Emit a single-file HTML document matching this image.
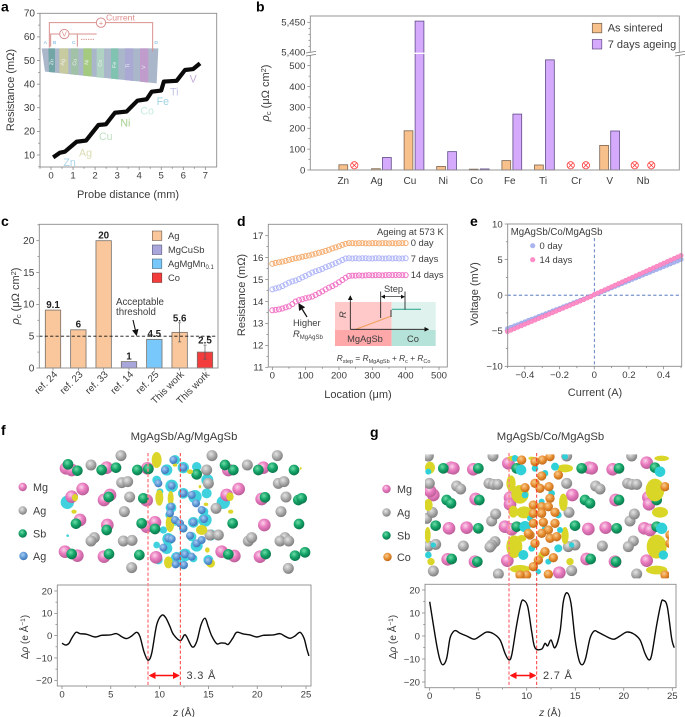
<!DOCTYPE html>
<html lang="en">
<head>
<meta charset="utf-8">
<title>Contact resistance figure</title>
<style>
html,body{margin:0;padding:0;background:#fff;width:685px;height:717px;overflow:hidden}
svg{display:block;font-family:"Liberation Sans",sans-serif;fill:#3c3c3c;font-size:9.6px;filter:blur(.3px)}
.pl{font-weight:bold;font-size:14px;fill:#000}
.t{font-size:9.4px}
.at{font-size:11px}
.lg{font-size:10.8px}
.ttl{font-size:11.3px}
.zt{font-size:10.3px}
.dr{font-size:10px}
.frame{fill:none;stroke:#8c8c8c;stroke-width:.9}
.tick{stroke:#777;stroke-width:.7}
</style>
</head>
<body>
<svg id="fig" xmlns="http://www.w3.org/2000/svg" width="685" height="717" viewBox="0 0 685 717">
<defs>
<radialGradient id="gM" cx=".4" cy=".35" r=".7"><stop offset="0" stop-color="#fbd4ea"/><stop offset=".45" stop-color="#ea7cc0"/><stop offset="1" stop-color="#b55a94"/></radialGradient>
<radialGradient id="gA" cx=".4" cy=".35" r=".7"><stop offset="0" stop-color="#e4e4e4"/><stop offset=".55" stop-color="#a8a8a8"/><stop offset="1" stop-color="#777"/></radialGradient>
<radialGradient id="gS" cx=".4" cy=".35" r=".7"><stop offset="0" stop-color="#6fdca8"/><stop offset=".5" stop-color="#14a468"/><stop offset="1" stop-color="#0a7048"/></radialGradient>
<radialGradient id="gB" cx=".4" cy=".35" r=".7"><stop offset="0" stop-color="#a9cdf2"/><stop offset=".55" stop-color="#5c97d6"/><stop offset="1" stop-color="#3a6fb0"/></radialGradient>
<radialGradient id="gC" cx=".4" cy=".35" r=".7"><stop offset="0" stop-color="#f8cd90"/><stop offset=".55" stop-color="#e68a2c"/><stop offset="1" stop-color="#b8651a"/></radialGradient>
<clipPath id="clipG"><rect x="240" y="118" width="732" height="372"/></clipPath>
<marker id="ah" markerWidth="6" markerHeight="6" refX="5" refY="3" orient="auto"><path d="M0,0 L6,3 L0,6 z" fill="#111"/></marker>
<marker id="ahs" markerWidth="6" markerHeight="6" refX="1" refY="3" orient="auto"><path d="M6,0 L0,3 L6,6 z" fill="#111"/></marker>
<marker id="ar" markerWidth="5" markerHeight="5" refX="4" refY="2.5" orient="auto"><path d="M0,0 L5,2.5 L0,5 z" fill="#f11"/></marker>
<marker id="ars" markerWidth="5" markerHeight="5" refX="1" refY="2.5" orient="auto"><path d="M5,0 L0,2.5 L5,5 z" fill="#f11"/></marker>
</defs>

<g id="panelA">
  <text class="pl" x="1" y="11.5">a</text>
  <g id="aAxes"></g>
  <rect class="frame" x="40" y="13.3" width="176.7" height="153.7"/>
  <text class="at" x="128" y="198" text-anchor="middle">Probe distance (mm)</text>
  <text class="at" transform="translate(14,90) rotate(-90)" text-anchor="middle">Resistance (mΩ)</text>
  <g transform="scale(.33333)">
    <polygon points="125,145 475,145 470,250 135,215" fill="#aab7ca"/>
    <polygon points="145,145 165,145 165,218 147,216" fill="#71a5a6"/>
    <polygon points="178,145 205,145 205,222 178,219" fill="#c8caa0"/>
    <polygon points="213,145 235,145 235,225 213,223" fill="#a2c2a8"/>
    <polygon points="250,145 275,145 275,230 250,227" fill="#a4ca80"/>
    <polygon points="290,145 312,145 312,234 290,232" fill="#afd2c3"/>
    <polygon points="333,145 355,145 355,238 333,236" fill="#80c3b0"/>
    <polygon points="375,145 400,145 400,243 375,240" fill="#aaa9d4"/>
    <polygon points="420,145 445,145 445,248 420,245" fill="#bf9ccb"/>
    <g fill="none" stroke="#d9908e" stroke-width="3">
      <path d="M148,143 V68 H458 V155"/>
      <path d="M152,140 V102 H290"/>
      <path d="M232,102 V140"/>
      <path d="M243,118 H285" stroke-dasharray="4 3"/>
      <circle cx="303" cy="68" r="14" fill="#fff"/>
      <circle cx="193" cy="102" r="14" fill="#fff"/>
    </g>
    <text x="318" y="62" font-size="26" fill="#df8f8c">Current</text>
    <text x="193" y="110" font-size="22" fill="#df8f8c" text-anchor="middle">V</text>
    <text x="303" y="76" font-size="22" fill="#df8f8c" text-anchor="middle">+</text>
    <g font-size="15" fill="#68aee0">
      <text x="131" y="132">A</text><text x="159" y="132">B</text><text x="216" y="132">C</text><text x="463" y="132">D</text>
    </g>
    <g font-size="16" fill="#eef3f3" text-anchor="middle">
      <text transform="translate(160,187) rotate(-85)">Zn</text><text transform="translate(193,187) rotate(-85)">Ag</text>
      <text transform="translate(229,187) rotate(-85)">Cu</text><text transform="translate(265,187) rotate(-85)">Ni</text>
      <text transform="translate(305,190) rotate(-85)">Co</text><text transform="translate(348,195) rotate(-85)">Fe</text>
      <text transform="translate(388,198) rotate(-85)">Ti</text><text transform="translate(436,202) rotate(-85)">V</text>
    </g>
  </g>
  <g id="aLine"></g>
  <g transform="scale(.33333)" font-size="32">
    <text x="190" y="498" fill="#a9d4e8">Zn</text>
    <text x="237" y="470" fill="#dcdcb0">Ag</text>
    <text x="297" y="420" fill="#bfe0c2">Cu</text>
    <text x="361" y="380" fill="#a6cf8e">Ni</text>
    <text x="421" y="344" fill="#c7ece0">Co</text>
    <text x="470" y="315" fill="#a0d4e4">Fe</text>
    <text x="510" y="286" fill="#c2c4e6">Ti</text>
    <text x="569" y="248" fill="#c4aed8">V</text>
  </g>
</g>

<g id="panelB">
  <text class="pl" x="256" y="11.5">b</text>
  <g id="bAxes"></g>
  <g id="bBars"></g>
  <rect class="frame" x="310.3" y="16" width="369" height="154"/>
  <g>
    <rect x="307" y="52" width="7" height="3" fill="#fff"/><rect x="676" y="52" width="7" height="3" fill="#fff"/>
    <path d="M306,53 L316,51.4 M306,56 L316,54.4 M675,53 L685,51.4 M675,56 L685,54.4" stroke="#777" stroke-width=".7" fill="none"/>
  </g>
  <text class="at" transform="translate(269,93) rotate(-90)" text-anchor="middle"><tspan font-style="italic">ρ</tspan><tspan font-size="7.5" dy="2">c</tspan><tspan dy="-2"> (μΩ cm</tspan><tspan font-size="7.5" dy="-3">2</tspan><tspan dy="3">)</tspan></text>
  <g>
    <rect x="592.3" y="23.3" width="9.5" height="9.5" fill="#f8c08a" stroke="#6b5a4d" stroke-width=".7"/>
    <text class="at" x="607.7" y="31.7">As sintered</text>
    <rect x="592.3" y="39.5" width="9.5" height="9.5" fill="#d5a9fb" stroke="#5f4a86" stroke-width=".7"/>
    <text class="at" x="607.7" y="48">7 days ageing</text>
  </g>
</g>

<g id="panelC">
  <text class="pl" x="1" y="226">c</text>
  <g id="cAxes"></g>
  <g id="cBars"></g>
  <rect class="frame" x="39.3" y="224.3" width="178.7" height="143.7"/>
  <text class="at" transform="translate(19,296) rotate(-90)" text-anchor="middle"><tspan font-style="italic">ρ</tspan><tspan font-size="7.5" dy="2">c</tspan><tspan dy="-2"> (μΩ cm</tspan><tspan font-size="7.5" dy="-3">2</tspan><tspan dy="3">)</tspan></text>
  <text class="t" x="116" y="305" style="font-size:9.7px">Acceptable</text>
  <text class="t" x="116" y="315" style="font-size:9.7px">threshold</text>
  <line x1="133" y1="320" x2="136.5" y2="335" stroke="#111" stroke-width="1.1" marker-end="url(#ah)"/>
  <g>
    <rect x="152.3" y="231" width="9.5" height="9.5" fill="#f9c79b" stroke="#6b5a4d" stroke-width=".6"/>
    <text class="t" x="168" y="239">Ag</text>
    <rect x="152.3" y="245" width="9.5" height="9.5" fill="#a9a6dc" stroke="#5a5a7a" stroke-width=".6"/>
    <text class="t" x="168" y="253">MgCuSb</text>
    <rect x="152.3" y="259" width="9.5" height="9.5" fill="#79c8fb" stroke="#4a6a7a" stroke-width=".6"/>
    <text class="t" x="168" y="267">AgMgMn<tspan font-size="6" dy="2">0.1</tspan></text>
    <rect x="152.3" y="273" width="9.5" height="9.5" fill="#f33c3c" stroke="#7a3a3a" stroke-width=".6"/>
    <text class="t" x="168" y="281">Co</text>
  </g>
</g>

<g id="panelD">
  <text class="pl" x="237" y="226">d</text>
  <g>
    <rect x="335" y="302" width="56.7" height="28" fill="#ffc9c9"/>
    <rect x="335" y="330" width="56.7" height="16" fill="#ffa8aa"/>
    <rect x="391.7" y="302" width="44" height="28" fill="#dff2ee"/>
    <rect x="391.7" y="330" width="44" height="16" fill="#b6e3d9"/>
    <text x="365" y="342" font-size="9.3" text-anchor="middle">MgAgSb</text>
    <text x="413" y="342" font-size="9.3" text-anchor="middle">Co</text>
    <path d="M355.7,329.3 L391.5,316" stroke="#f0a060" stroke-width="1.1" fill="none"/>
    <path d="M391.7,309.3 H421" stroke="#3cab93" stroke-width="1.1" fill="none"/>
    <path d="M391,310 V317" stroke="#444" stroke-width="1.1" fill="none"/>
    <line x1="350.3" y1="329.3" x2="350.3" y2="296" stroke="#111" stroke-width=".8" marker-end="url(#ah)"/>
    <line x1="350.3" y1="329.3" x2="428.3" y2="329.3" stroke="#111" stroke-width=".8" marker-end="url(#ah)"/>
    <path d="M380.7,291.5 V318 M405,291.5 V309.5" stroke="#111" stroke-width=".8" fill="none"/>
    <line x1="381.5" y1="296.7" x2="404.3" y2="296.7" stroke="#111" stroke-width=".7" marker-start="url(#ahs)" marker-end="url(#ah)"/>
    <text x="393.5" y="292" font-size="9.3" text-anchor="middle">Step</text>
    <text font-size="9.3" transform="translate(346,318) rotate(-90)" font-style="italic">R</text>
    <text x="336.7" y="361" font-size="8.3"><tspan font-style="italic">R</tspan><tspan font-size="5.5" dy="2">step</tspan><tspan dy="-2"> = </tspan><tspan font-style="italic">R</tspan><tspan font-size="5.5" dy="2">MgAgSb</tspan><tspan dy="-2"> + </tspan><tspan font-style="italic">R</tspan><tspan font-size="5.5" dy="2">c</tspan><tspan dy="-2"> + </tspan><tspan font-style="italic">R</tspan><tspan font-size="5.5" dy="2">Co</tspan></text>
  </g>
  <g id="dAxes"></g>
  <g id="dSeries"></g>
  <rect class="frame" x="268.3" y="224.3" width="179" height="142.7"/>
  <text class="at" x="358" y="398" text-anchor="middle">Location (μm)</text>
  <text class="at" transform="translate(245,295) rotate(-90)" text-anchor="middle">Resistance (mΩ)</text>
  <text class="t" x="377" y="235">Ageing at 573 K</text>
  <text class="t" x="410.7" y="246">0 day</text>
  <text class="t" x="410.7" y="262">7 days</text>
  <text class="t" x="410.7" y="278">14 days</text>
  <text class="t" x="293" y="326">Higher</text>
  <text class="t" x="293" y="337"><tspan font-style="italic">R</tspan><tspan font-size="6" dy="2">MgAgSb</tspan></text>
  <line x1="307" y1="317" x2="299" y2="304" stroke="#111" stroke-width="1.2" marker-end="url(#ah)"/>
</g>

<g id="panelE">
  <text class="pl" x="470" y="226">e</text>
  <g id="eAxes"></g>
  <path d="M507.7,295.2 H681.7 M594.3,238 V366.3" stroke="#3f66b4" stroke-width=".8" stroke-dasharray="3.2 2.4" fill="none"/>
  <g id="eSeries"></g>
  <rect class="frame" x="507.7" y="224" width="174" height="142.3"/>
  <text class="at" x="595" y="396" text-anchor="middle">Current (A)</text>
  <text class="at" transform="translate(478,294) rotate(-90)" text-anchor="middle">Voltage (mV)</text>
  <text class="t" x="510.7" y="235" style="font-size:9.66px">MgAgSb/Co/MgAgSb</text>
  <circle cx="532.7" cy="245.7" r="2.6" fill="#a9b4f0"/>
  <text class="t" x="539.5" y="249">0 day</text>
  <circle cx="532.7" cy="259.7" r="2.6" fill="#ff8ec8"/>
  <text class="t" x="539.5" y="263">14 days</text>
</g>

<g id="panelF">
  <text class="pl" x="1" y="435">f</text>
  <text class="ttl" x="184" y="440" text-anchor="middle">MgAgSb/Ag/MgAgSb</text>
  <g id="fAtoms" transform="translate(0,415) scale(.33333)"></g>
  <g>
    <circle cx="22.7" cy="487" r="4.2" fill="url(#gM)"/><text class="lg" x="33" y="490.8">Mg</text>
    <circle cx="22.7" cy="510.5" r="4.2" fill="url(#gA)"/><text class="lg" x="33" y="514.3">Ag</text>
    <circle cx="22.7" cy="533.5" r="4.2" fill="url(#gS)"/><text class="lg" x="33" y="537.3">Sb</text>
    <circle cx="23.5" cy="556" r="4.2" fill="url(#gB)"/><text class="lg" x="33" y="559.8">Ag</text>
  </g>
  <g id="fAxes"></g>
  <g id="fLine"></g>
  <rect class="frame" x="57.3" y="585" width="253.7" height="101"/>
  <path d="M148,453 V686.7" stroke="#ff8088" stroke-width="1.4" stroke-dasharray="3.2 2" fill="none"/>
  <path d="M180.3,453 V686.7" stroke="#f22" stroke-width=".9" stroke-dasharray="3.2 2" fill="none"/>
  <line x1="150" y1="675.5" x2="178.5" y2="675.5" stroke="#f11" stroke-width="1.4" marker-start="url(#ars)" marker-end="url(#ar)"/>
  <text class="at" x="186.5" y="679" letter-spacing=".8">3.3 Å</text>
  <text class="zt" x="184" y="716" text-anchor="middle"><tspan font-style="italic">z</tspan> (Å)</text>
  <text class="dr" transform="translate(28,637) rotate(-90)" text-anchor="middle">Δ<tspan font-style="italic">ρ</tspan> (e Å<tspan font-size="6.5" dy="-3">−1</tspan><tspan dy="3">)</tspan></text>
</g>

<g id="panelG">
  <text class="pl" x="370" y="437">g</text>
  <text class="ttl" x="550.5" y="440" text-anchor="middle">MgAgSb/Co/MgAgSb</text>
  <g transform="translate(345,415) scale(.33333)"><g id="gAtoms" clip-path="url(#clipG)"></g></g>
  <g>
    <circle cx="386.5" cy="489" r="4.2" fill="url(#gM)"/><text class="lg" x="397" y="492.8">Mg</text>
    <circle cx="386.5" cy="512.5" r="4.2" fill="url(#gA)"/><text class="lg" x="397" y="516.3">Ag</text>
    <circle cx="386.5" cy="535.5" r="4.2" fill="url(#gS)"/><text class="lg" x="397" y="539.3">Sb</text>
    <circle cx="387.5" cy="557" r="4.2" fill="url(#gC)"/><text class="lg" x="397" y="560.8">Co</text>
  </g>
  <g id="gAxes"></g>
  <g id="gLine"></g>
  <rect class="frame" x="425" y="584.3" width="251" height="103.4"/>
  <path d="M509,453 V687.7" stroke="#ff8088" stroke-width="1.4" stroke-dasharray="3.2 2" fill="none"/>
  <path d="M536.7,453 V687.7" stroke="#f22" stroke-width=".9" stroke-dasharray="3.2 2" fill="none"/>
  <line x1="511" y1="675.5" x2="535" y2="675.5" stroke="#f11" stroke-width="1.4" marker-start="url(#ars)" marker-end="url(#ar)"/>
  <text class="at" x="543" y="679" letter-spacing=".8">2.7 Å</text>
  <text class="zt" x="550" y="716" text-anchor="middle"><tspan font-style="italic">z</tspan> (Å)</text>
  <text class="dr" transform="translate(396,637) rotate(-90)" text-anchor="middle">Δ<tspan font-style="italic">ρ</tspan> (e Å<tspan font-size="6.5" dy="-3">−1</tspan><tspan dy="3">)</tspan></text>
</g>
</svg>

<script>
// ---------- panel a data ----------
const aDistance = [0.1,0.41,0.63,1.16,1.59,2.15,2.49,2.9,3.43,3.92,4.34,4.57,5.0,5.12,5.7,6.08,6.45,6.76];
const aResistance = [9,11,11.4,15.6,16.1,22.7,23,27.9,28.4,33,33.6,36.8,37.3,41.1,41.4,46,46.4,48.8];
const aXTicks = [0,1,2,3,4,5,6,7];
const aYTicks = [10,20,30,40,50,60,70];
// ---------- panel b data ----------
const bCategories = ['Zn','Ag','Cu','Ni','Co','Fe','Ti','Cr','V','Nb'];
const bSintered = [25,6,188,17,4,45,24,null,118,null];
const bAged = [null,60,5452,88,5,268,528,null,187,null];
const bYLowTicks = [0,100,200,300,400,500];
const bYHighTicks = [5400,5450];
// ---------- panel c data ----------
const cRefs = ['ref. 24','ref. 23','ref. 33','ref. 14','ref. 25','This work','This work'];
const cValues = [9.1,6,20,1,4.5,5.6,2.5];
const cPrinted = ['9.1','6','20','1','4.5','5.6','2.5'];
const cMaterials = ['Ag','Ag','Ag','MgCuSb','AgMgMn','Ag','Co'];
const cErrors = [0,0,0,0,0,1.5,1.1];
const cThreshold = 5;
const cYTicks = [0,5,10,15,20];
// ---------- panel d data ----------
const dLocation = [0,10,20,30,40,50,60,70,80,90,100,110,120,130,140,150,160,170,180,190,200,210,220,230,240,250,260,270,280,290,300,310,320,330,340,350,360,370,380,390,400];
const dDay0 = [15.72,15.76,15.79,15.82,15.85,15.90,15.94,15.97,16.00,16.04,16.07,16.10,16.14,16.18,16.22,16.26,16.31,16.36,16.42,16.47,16.52,16.58,16.63,16.66,16.66,16.65,16.66,16.66,16.65,16.65,16.66,16.66,16.65,16.66,16.66,16.65,16.66,16.65,16.66,16.66,16.66];
const dDay7 = [14.55,14.60,14.64,14.70,14.78,14.86,14.92,14.96,15.02,15.10,15.17,15.24,15.32,15.38,15.43,15.49,15.56,15.62,15.68,15.75,15.82,15.89,15.96,15.97,15.96,15.97,15.96,15.97,15.97,15.96,15.96,15.97,15.97,15.96,15.96,15.97,15.96,15.97,15.96,15.96,15.97];
const dDay14 = [13.60,13.62,13.64,13.68,13.73,13.78,13.88,14.00,14.06,14.10,14.15,14.18,14.23,14.30,14.38,14.46,14.55,14.63,14.70,14.78,14.88,14.98,15.08,15.16,15.18,15.18,15.19,15.18,15.19,15.20,15.19,15.20,15.20,15.19,15.20,15.21,15.20,15.21,15.21,15.20,15.20];
const dXTicks = [0,100,200,300,400,500];
const dYTicks = [11,12,13,14,15,16,17];
// ---------- panel e data ----------
const eCurrent = [-0.5,-0.48,-0.46,-0.44,-0.42,-0.4,-0.38,-0.36,-0.34,-0.32,-0.3,-0.28,-0.26,-0.24,-0.22,-0.2,-0.18,-0.16,-0.14,-0.12,-0.1,-0.08,-0.06,-0.04,-0.02,0,0.02,0.04,0.06,0.08,0.1,0.12,0.14,0.16,0.18,0.2,0.22,0.24,0.26,0.28,0.3,0.32,0.34,0.36,0.38,0.4,0.42,0.44,0.46,0.48,0.5];
const eDay0 = [-4.72,-4.52,-4.33,-4.16,-3.95,-3.77,-3.57,-3.39,-3.21,-3.00,-2.82,-2.63,-2.45,-2.24,-2.06,-1.88,-1.67,-1.49,-1.31,-1.10,-0.92,-0.73,-0.55,-0.34,-0.16,0.06,0.24,0.44,0.64,0.83,1.04,1.24,1.43,1.64,1.83,2.03,2.24,2.43,2.63,2.84,3.03,3.22,3.43,3.63,3.82,4.03,4.22,4.42,4.62,4.81,5.02];
const eDay14 = [-5.12,-4.91,-4.71,-4.50,-4.30,-4.09,-3.89,-3.68,-3.48,-3.27,-3.07,-2.86,-2.66,-2.45,-2.25,-2.04,-1.84,-1.63,-1.43,-1.22,-1.02,-0.81,-0.61,-0.40,-0.19,0.08,0.30,0.52,0.74,0.96,1.18,1.40,1.62,1.84,2.06,2.28,2.50,2.72,2.94,3.16,3.38,3.60,3.82,4.04,4.26,4.48,4.70,4.92,5.14,5.36,5.58];
const eXTicks = [-0.4,-0.2,0,0.2,0.4];
const eYTicks = [-10,-5,0,5,10];
// ---------- panels f, g data ----------
const fZ = [0,.38,.72,.99,1.43,1.84,2.53,3.38,4.06,4.92,5.6,6.11,6.63,7.14,7.65,7.99,8.4,8.81,9.19,9.7,10.21,10.62,11.07,11.41,12.12,12.53,12.77,13.35,13.8,14.24,14.65,14.99,15.33,15.85,16.26,16.7,17.04,17.49,17.9,18.58,19.26,19.95,20.63,21.65,22.34,22.85,23.36,23.87,24.39,24.8,25.07,25.3];
const fRho = [-3.4,-4.2,-3.4,-1.2,1.5,.9,.6,-.6,.15,.3,.9,-.45,-1.3,-.15,1.5,-.45,-7.2,-11,-7.9,4.8,9.1,8.1,4,.6,-2.2,.3,-.45,-5.1,-2.7,4.8,7.8,4,0,-3.6,-3.3,-3.4,-3.9,-1.2,1.5,.75,.3,-.6,.15,.3,.9,-.3,-1.2,-.15,1.5,-1.2,-5.7,-9.1];
const gZ = [0,.27,.72,1.06,1.37,1.75,2.09,2.44,2.71,3.13,3.81,4.57,5.19,5.87,6.56,7.25,7.76,8.14,8.45,8.96,9.41,9.68,10.1,10.51,10.85,11.54,11.88,12.16,12.5,12.91,13.43,13.77,14.15,14.56,14.97,15.38,15.73,16.07,16.52,16.96,17.38,18.06,18.92,19.61,20.3,20.98,21.67,22.18,22.56,22.87,23.39,23.84,24.07,24.48,24.93,25.2];
const gRho = [14.9,7.7,-3.9,-10.4,-12.5,-9.7,-1,1.9,2.3,1.2,0,-1.4,0,1.7,1,-1.7,-7.5,-10.3,-8.3,4.8,14.2,15.5,12.8,1.9,-5.1,-5.7,-3.2,-4.3,-1.7,-5.1,1.9,14.9,18.8,14.2,-1,-10.4,-12.5,-9.7,-1,2.2,1.6,.1,-1.4,0,1.7,1,-1.7,-7.5,-10.3,-8.3,4.8,14.2,15.5,12.8,-1,-5.1];
const zTicks = [0,5,10,15,20,25];
const rhoTicks = [-20,-10,0,10,20];
// ---------- illustration atoms (not chart data) ----------
const fCyan = [[202,262,20],[670,262,20],[525,135,15],[500,165,17],[550,158,17],[590,155,14],[470,195,13],[622,195,18],[515,213,19],[480,230,10],[550,235,16],[585,245,20],[620,235,15],[513,278,16],[508,300,12],[612,290,13],[615,315,20],[525,318,14],[580,322,16],[490,345,11],[550,340,13],[632,360,17],[505,372,18],[470,390,10],[575,365,14],[590,392,18],[500,400,17],[530,428,17],[555,420,19],[580,430,12],[625,435,15],[475,435,13],[550,450,13],[635,122,7],[203,362,4]];
const fYellow = [[470,135,15,24],[478,248,12,24],[512,250,9,22],[225,248,9,11],[222,290,8,6],[690,245,11,13],[692,290,8,6],[510,325,13,26],[605,345,17,15],[505,442,13,18],[632,445,13,13],[622,405,7,8],[618,268,7,5],[902,160,3,4],[600,215,4,5],[570,170,9,7],[525,150,7,5]];
const fMg = [[198,160],[215,165],[320,158],[248,222],[215,245],[312,255],[322,330],[240,315],[440,256],[440,335],[790,158],[685,165],[716,222],[785,252],[793,330],[195,410],[232,422],[312,425],[468,427],[442,160],[665,410],[703,423],[780,425],[680,240],[465,322],[330,240]];
const fAg = [[363,122],[273,150],[365,203],[383,200],[389,246],[373,290],[283,368],[273,378],[370,378],[396,376],[395,458],[832,122],[742,150],[835,205],[852,200],[858,246],[843,290],[855,368],[840,378],[866,378],[745,378],[755,368],[865,460],[636,122],[625,205],[620,165],[630,360],[655,360],[648,280]];
const fSb = [[232,167],[204,148],[348,158],[305,165],[326,246],[228,326],[698,325],[320,345],[412,165],[445,162],[430,250],[425,325],[465,342],[327,417],[215,417],[418,420],[797,417],[885,422],[915,412],[882,165],[818,158],[775,165],[795,247],[895,255],[905,250],[897,327],[700,165],[675,150],[590,178],[685,418]];
const fInterface = [[520,135],[495,165],[550,158],[475,205],[515,212],[550,235],[575,240],[588,265],[513,275],[510,295],[525,315],[540,325],[580,322],[612,312],[550,340],[570,362],[505,370],[515,372],[605,285],[590,385],[490,398],[530,425],[555,418],[575,425],[527,448],[552,450],[625,438],[605,375]];
const fDeep = [[465,205],[585,242],[648,270],[495,398],[590,396],[630,290]];
const gCyan = [[528,165,16],[540,335,17],[535,420,15],[945,170,16],[950,340,17],[955,420,14],[250,170,9],[250,420,10],[570,160,10],[630,155,12],[600,175,10],[540,240,10],[620,235,10],[590,260,9],[640,300,10],[555,310,9],[600,340,9],[645,345,9],[560,400,10],[640,400,12],[610,440,9],[580,470,8],[660,125,9],[510,130,10],[265,390,8],[680,390,8]];
const gYellow = [[498,205,14,24],[525,238,26,28],[505,290,14,18],[538,292,24,18],[508,395,24,34],[525,462,30,12],[655,262,13,26],[660,160,24,12],[660,362,11,26],[935,395,30,36],[930,225,28,34],[945,292,24,16],[250,270,13,18],[255,158,15,18],[248,360,9,24],[258,440,11,11],[505,130,18,8],[935,465,32,13],[950,130,22,8],[675,440,11,11],[560,130,10,5],[590,420,10,10],[530,370,14,10]];
const gMg = [[318,158],[325,160],[385,163],[265,240],[255,228],[392,252],[312,340],[365,338],[495,248],[490,145],[480,335],[500,343],[495,268],[732,158],[740,160],[803,163],[905,143],[910,247],[912,268],[682,240],[812,255],[730,342],[782,338],[898,340],[915,345],[487,437],[643,473],[308,433],[390,440],[725,432],[810,440],[905,437]];
const gAg = [[250,123],[444,123],[665,123],[860,123],[253,205],[335,213],[347,222],[432,205],[445,208],[458,208],[245,310],[262,292],[440,318],[452,297],[355,393],[250,393],[272,388],[450,380],[440,390],[435,396],[460,477],[265,468],[752,213],[765,222],[848,205],[860,208],[875,208],[665,205],[672,292],[855,318],[868,297],[772,393],[690,390],[670,395],[865,378],[850,395],[875,477],[680,467]];
const gSb = [[295,160],[400,160],[305,255],[318,265],[403,255],[272,332],[400,340],[515,160],[515,335],[710,160],[822,160],[930,158],[720,255],[735,265],[822,255],[690,332],[815,340],[935,335],[320,432],[397,440],[737,432],[813,440],[935,255]];
const gCo = [[592,135],[615,125],[570,140],[590,183],[570,205],[540,218],[640,180],[612,215],[585,220],[615,250],[565,270],[590,275],[610,275],[565,295],[590,295],[630,292],[565,325],[595,322],[630,325],[610,345],[555,360],[590,355],[615,370],[635,365],[570,385],[600,410],[625,428],[580,435],[565,455],[545,480],[610,478],[525,480],[960,480],[975,360],[975,385],[960,215],[530,135],[550,355]];

// ---------- helpers ----------
const NS = 'http://www.w3.org/2000/svg';
function mk(tag, attrs, parent, txt) {
  const el = document.createElementNS(NS, tag);
  for (const k in attrs) el.setAttribute(k, attrs[k]);
  if (txt !== undefined) el.textContent = txt;
  parent.appendChild(el);
  return el;
}
function linear(d0, d1, r0, r1) { return v => r0 + (v - d0) * (r1 - r0) / (d1 - d0); }
const $ = id => document.getElementById(id);
const fmtMinus = v => String(v).replace('-', '−');

function xAxis(g, scale, ticks, minors, y0, fs) {
  ticks.forEach(t => {
    const l = mk('line', {class:'tick', x1:scale(t), x2:scale(t), y1:y0, y2:y0+3}, g);
    
    
    const tx = mk('text', {x:scale(t), y:y0+11.5, 'text-anchor':'middle', 'font-size':fs||9.6}, g, fmtMinus(t));
    
    
  });
  minors.forEach(t => {
    const l = mk('line', {class:'tick', x1:scale(t), x2:scale(t), y1:y0, y2:y0+1.8}, g);
    
    
  });
}
function yAxis(g, scale, ticks, minors, x0, fs) {
  ticks.forEach(t => {
    const l = mk('line', {class:'tick', x1:x0-3, x2:x0, y1:scale(t), y2:scale(t)}, g);
    
    
    const tx = mk('text', {x:x0-5, y:scale(t)+3.3, 'text-anchor':'end', 'font-size':fs||9.6}, g, fmtMinus(t).replace(/^(\d)(\d{3})$/, '$1,$2'));
    
    
  });
  minors.forEach(t => {
    const l = mk('line', {class:'tick', x1:x0-1.8, x2:x0, y1:scale(t), y2:scale(t)}, g);
    
    
  });
}
function midpoints(ticks) {
  const out = [];
  for (let i = 0; i < ticks.length - 1; i++) out.push((ticks[i] + ticks[i+1]) / 2);
  return out;
}
function smoothPath(xs, ys) {
  let d = 'M' + xs[0].toFixed(2) + ',' + ys[0].toFixed(2);
  for (let i = 0; i < xs.length - 1; i++) {
    const p0 = i ? i-1 : i, p3 = i+2 < xs.length ? i+2 : i+1;
    const c1x = xs[i] + (xs[i+1]-xs[p0])/6, c1y = ys[i] + (ys[i+1]-ys[p0])/6;
    const c2x = xs[i+1] - (xs[p3]-xs[i])/6, c2y = ys[i+1] - (ys[p3]-ys[i])/6;
    d += 'C' + c1x.toFixed(2) + ',' + c1y.toFixed(2) + ' ' + c2x.toFixed(2) + ',' + c2y.toFixed(2) + ' ' + xs[i+1].toFixed(2) + ',' + ys[i+1].toFixed(2);
  }
  return d;
}

// ---------- panel a ----------
{
  const x = linear(0, 7, 51, 205.3), y = linear(10, 70, 155, 13.3);
  xAxis($('aAxes'), x, aXTicks, [-0.5].concat(midpoints(aXTicks)), 167);
  yAxis($('aAxes'), y, aYTicks, [5].concat(midpoints(aYTicks)), 40, 10);
  const pts = aDistance.map((d, i) => x(d).toFixed(2) + ',' + y(aResistance[i]).toFixed(2)).join(' ');
  const line = mk('polyline', {points:pts, fill:'none', stroke:'#0a0a0a', 'stroke-width':4.2, 'stroke-linejoin':'round'}, $('aLine'));
  
  
}

// ---------- panel b ----------
{
  const yLow = linear(0, 500, 170, 65.7), yHigh = linear(5400, 5450, 52.3, 22.3);
  const y = v => v > 1000 ? yHigh(v) : yLow(v);
  const barX = i => 343.3 + 32.6 * i;
  const labX = i => 343.3 + 33.3 * i;
  const g = $('bAxes'), gb = $('bBars');
  yAxis(g, y, bYLowTicks, midpoints(bYLowTicks), 310.3);
  yAxis(g, y, bYHighTicks, [5410,5420,5430,5440], 310.3);
  bCategories.forEach((c, i) => {
    const tx = mk('text', {x:labX(i), y:184, 'text-anchor':'middle', 'font-size':10}, g, c);
    
    
    [[bSintered[i], barX(i), '#f8c08a', '#7c6450'], [bAged[i], barX(i) + 11, '#d5a9fb', '#5f4a86']].forEach(b => {
      if (b[0] === null) return;
      const r = mk('rect', {x:b[1]-4.4, y:y(b[0]), width:8.8, height:170-y(b[0]), fill:b[2], stroke:b[3], 'stroke-width':.8}, gb);
      
      
      if (b[0] > 1000) {
        const gap = mk('rect', {x:b[1]-5, y:52.6, width:10, height:1.4, fill:'#fff'}, gb);
        
        
      }
    });
  });
  const missing = [];
  bCategories.forEach((c, i) => {
    if (bSintered[i] === null) missing.push(barX(i) - (c === 'Nb' ? 2 : 0.8));
    if (bAged[i] === null) missing.push(barX(i) + 11 + (c === 'Zn' ? 0 : c === 'Nb' ? 3.6 : 3.4));
  });
  missing.forEach(px => {
    const m = mk('g', {transform:'translate(' + px + ',165.3)', fill:'none', stroke:'#f33', 'stroke-width':.8}, gb);
    
    
    mk('circle', {r:3.6, fill:'#fff'}, m);
    mk('path', {d:'M-2.2,-2.2L2.2,2.2M-2.2,2.2L2.2,-2.2'}, m);
  });
}

// ---------- panel c ----------
{
  const y = linear(0, 20, 368, 240.7);
  const x = i => 53 + 25.33 * i;
  const colors = {Ag:'#f9c79b', MgCuSb:'#a9a6dc', AgMgMn:'#79c8fb', Co:'#f33c3c'};
  const g = $('cAxes'), gb = $('cBars');
  yAxis(g, y, cYTicks, [2.5,7.5,12.5,17.5,22.5], 39.3, 10);
  cValues.forEach((v, i) => {
    const r = mk('rect', {x:x(i)-7.7, y:y(v), width:15.4, height:368-y(v), fill:colors[cMaterials[i]], stroke:'#77706a', 'stroke-width':.8}, gb);
    
    
    const vt = mk('text', {x:x(i), y:y(v + cErrors[i]) - (cErrors[i] ? 1.5 : 2.2), 'text-anchor':'middle', 'font-size':9.8, 'font-weight':'bold', fill:'#222'}, gb, cPrinted[i]);
    
    
    if (cErrors[i]) {
      const e = mk('path', {d:'M'+x(i)+','+y(v-cErrors[i])+'V'+y(v+cErrors[i])+'M'+(x(i)-1.5)+','+y(v-cErrors[i])+'h3M'+(x(i)-1.5)+','+y(v+cErrors[i])+'h3', stroke:'#555', 'stroke-width':.7, fill:'none'}, gb);
      
      
    }
    const t = mk('line', {class:'tick', x1:x(i), x2:x(i), y1:368, y2:370.5}, g);
    
    
    const lab = mk('text', {transform:'translate(' + (x(i)+5) + ',375) rotate(-45)', 'text-anchor':'end', 'font-size':9.8}, g, cRefs[i]);
    
    
  });
  const th = mk('line', {x1:39.3, x2:218, y1:y(cThreshold), y2:y(cThreshold), stroke:'#111', 'stroke-width':.9, 'stroke-dasharray':'3.2 2.2'}, gb);
  
  
}

// ---------- panel d ----------
{
  const x = linear(0, 500, 272.3, 439), y = linear(11, 17, 367.3, 235.7);
  xAxis($('dAxes'), x, dXTicks, midpoints(dXTicks), 367);
  yAxis($('dAxes'), y, dYTicks, midpoints(dYTicks), 268.3);
  [[dDay0,'#f5ab6c','series-0-day'],[dDay7,'#aeb4f6','series-7-days'],[dDay14,'#f070c4','series-14-days']].forEach(s => {
    const grp = mk('g', {fill:'none', stroke:s[1], 'stroke-width':1}, $('dSeries'));
    
    
    dLocation.forEach((l, i) => {
      const c = mk('circle', {cx:x(l), cy:y(s[0][i]), r:2.5}, grp);
      
      
    });
  });
}

// ---------- panel e ----------
{
  const x = linear(-0.5, 0.5, 507.5, 681), y = linear(-10, 10, 366.3, 224);
  xAxis($('eAxes'), x, eXTicks, [-0.5,-0.3,-0.1,0.1,0.3,0.5], 366.3);
  yAxis($('eAxes'), y, eYTicks, midpoints(eYTicks), 507.7);
  [[eDay0,'#a9b4f0','#8d9ae0','series-0-day'],[eDay14,'#ff8ec8','#ee74b4','series-14-days']].forEach(s => {
    const grp = mk('g', {fill:s[1], stroke:s[2], 'stroke-width':.4}, $('eSeries'));
    
    
    eCurrent.forEach((c, i) => {
      const p = mk('circle', {cx:x(c), cy:y(s[0][i]), r:2.3}, grp);
      
      
    });
  });
}

// ---------- panels f, g curves ----------
{
  const x = linear(0, 25, 62, 306), y = linear(-20, 20, 680.3, 591);
  xAxis($('fAxes'), x, zTicks, midpoints(zTicks), 686);
  yAxis($('fAxes'), y, rhoTicks, midpoints(rhoTicks), 57.3);
  const p = mk('path', {d:smoothPath(fZ.map(x), fRho.map(y)), fill:'none', stroke:'#0a0a0a', 'stroke-width':1.4}, $('fLine'));
  
  
}
{
  const x = linear(0, 25, 429.7, 672.3), y = linear(-20, 20, 682, 590);
  xAxis($('gAxes'), x, zTicks, midpoints(zTicks), 687.7);
  yAxis($('gAxes'), y, rhoTicks, midpoints(rhoTicks), 425);
  const p = mk('path', {d:smoothPath(gZ.map(x), gRho.map(y)), fill:'none', stroke:'#0a0a0a', 'stroke-width':1.4}, $('gLine'));
  
  
}

// ---------- atoms ----------
function blobs(g, list, color, name) {
  list.forEach(b => {
    const e = mk('ellipse', {cx:b[0], cy:b[1], rx:b[2], ry:b[3] || b[2], fill:color}, g);
    
    
  });
}
function atoms(g, list, grad, r, name) {
  list.forEach(a => {
    const e = mk('circle', {cx:a[0], cy:a[1], r:r, fill:'url(#' + grad + ')'}, g);
    
    
  });
}
{
  const g = $('fAtoms');
  blobs(g, fCyan, '#3fd2de', 'charge-depletion-blob');
  atoms(g, fMg, 'gM', 19, 'mg-atom');
  atoms(g, fAg, 'gA', 16.5, 'ag-atom');
  atoms(g, fSb, 'gS', 16, 'sb-atom');
  blobs(g, fYellow, '#dcd62a', 'charge-accumulation-blob');
  blobs(g, fDeep, '#0a1ed8', 'deep-blue-blob');
  atoms(g, fInterface, 'gB', 12, 'interface-ag-atom');
}
{
  const g = $('gAtoms');
  atoms(g, gMg, 'gM', 19, 'mg-atom');
  atoms(g, gAg, 'gA', 16.5, 'ag-atom');
  atoms(g, gSb, 'gS', 16, 'sb-atom');
  blobs(g, gYellow, '#d9d628', 'charge-accumulation-blob');
  blobs(g, gCyan, '#2fd0d8', 'charge-depletion-blob');
  atoms(g, gCo, 'gC', 14, 'interface-co-atom');
}
</script>
</body>
</html>
